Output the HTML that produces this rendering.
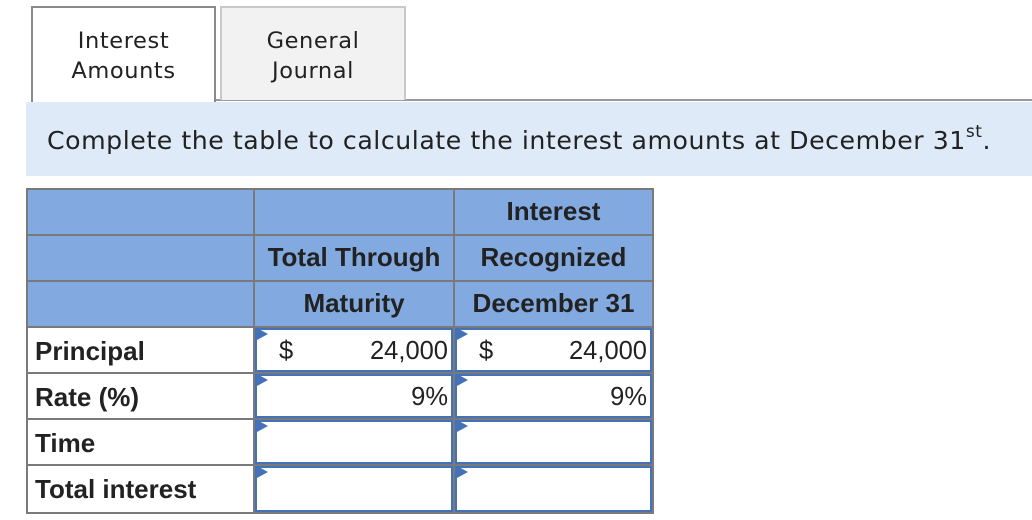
<!DOCTYPE html>
<html><head><meta charset="utf-8"><style>
body{margin:0;width:1032px;height:520px;background:#fff;position:relative;overflow:hidden;font-family:"Liberation Sans",Arial,sans-serif}
.a{position:absolute;box-sizing:border-box}
.tab{font-family:"DejaVu Sans",Verdana,sans-serif;font-size:22.5px;letter-spacing:0.6px;line-height:30px;text-align:center;color:#222;padding-top:18px}
.c{position:absolute;box-sizing:border-box;border:2px solid #7a7a7a;font-size:26px;color:#222}
.h{background:#82aae0;font-weight:bold;text-align:center;line-height:42px}
.lab{font-weight:bold;padding-left:7px;line-height:46px}
.inp{position:absolute;left:0;top:0;right:0;bottom:0;border:2px solid #4472b8;background:#fff;line-height:42px;padding:0 3px;font-size:25.5px}
.inp:before{content:"";position:absolute;left:0;top:0;border-left:11px solid #4472b8;border-top:6px solid transparent;border-bottom:6px solid transparent;margin-top:-2px}
</style></head><body>
<div class="a" style="left:215px;top:99px;width:817px;height:2px;background:#999"></div>
<div class="a tab" style="left:31px;top:6px;width:185px;height:96px;background:#fff;border:2px solid #8a8a8a;border-bottom:none">Interest<br>Amounts</div>
<div class="a tab" style="left:220px;top:6px;width:186px;height:94px;background:#f2f2f2;border:2px solid #c8c8c8;border-bottom:none">General<br>Journal</div>
<div class="a" style="left:26px;top:102px;width:1006px;height:74px;background:#deeaf8;font-family:'DejaVu Sans',Verdana,sans-serif;font-size:25.2px;letter-spacing:0.55px;color:#222;padding:24px 0 0 21px;white-space:nowrap">Complete the table to calculate the interest amounts at December 31<sup style="font-size:17px;vertical-align:12px;line-height:0">st</sup>.</div>

<div class="c h" style="left:26px;top:188px;width:229px;height:48px"></div>
<div class="c h" style="left:26px;top:234px;width:229px;height:48px"></div>
<div class="c h" style="left:26px;top:280px;width:229px;height:48px"></div>
<div class="c h" style="left:253px;top:188px;width:202px;height:48px"></div>
<div class="c h" style="left:253px;top:234px;width:202px;height:48px">Total Through</div>
<div class="c h" style="left:253px;top:280px;width:202px;height:48px">Maturity</div>
<div class="c h" style="left:453px;top:188px;width:201px;height:48px">Interest</div>
<div class="c h" style="left:453px;top:234px;width:201px;height:48px">Recognized</div>
<div class="c h" style="left:453px;top:280px;width:201px;height:48px">December 31</div>

<div class="c lab" style="left:26px;top:326px;width:229px;height:48px">Principal</div>
<div class="c lab" style="left:26px;top:372px;width:229px;height:48px">Rate (%)</div>
<div class="c lab" style="left:26px;top:418px;width:229px;height:48px">Time</div>
<div class="c lab" style="left:26px;top:464px;width:229px;height:50px">Total interest</div>

<div class="c" style="left:253px;top:326px;width:202px;height:48px"><div class="inp"><span style="position:absolute;left:22px">$</span><span style="position:absolute;right:3px">24,000</span></div></div>
<div class="c" style="left:453px;top:326px;width:201px;height:48px"><div class="inp"><span style="position:absolute;left:22px">$</span><span style="position:absolute;right:3px">24,000</span></div></div>
<div class="c" style="left:253px;top:372px;width:202px;height:48px"><div class="inp" style="text-align:right">9%</div></div>
<div class="c" style="left:453px;top:372px;width:201px;height:48px"><div class="inp" style="text-align:right">9%</div></div>
<div class="c" style="left:253px;top:418px;width:202px;height:48px"><div class="inp"></div></div>
<div class="c" style="left:453px;top:418px;width:201px;height:48px"><div class="inp"></div></div>
<div class="c" style="left:253px;top:464px;width:202px;height:50px"><div class="inp"></div></div>
<div class="c" style="left:453px;top:464px;width:201px;height:50px"><div class="inp"></div></div>
</body></html>
